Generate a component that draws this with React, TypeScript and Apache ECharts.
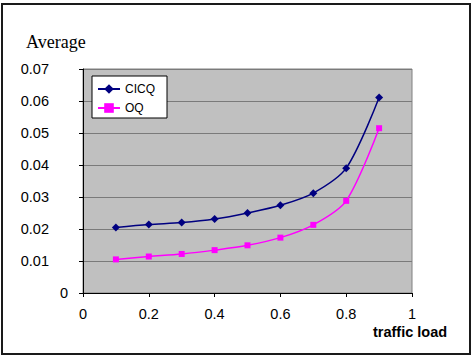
import React, { useEffect, useRef } from "react";
import * as echarts from "echarts";

const trafficLoad = [0.1, 0.2, 0.3, 0.4, 0.5, 0.6, 0.7, 0.8, 0.9];
const cicqValues = [0.0205, 0.0214, 0.022, 0.0231, 0.025, 0.0274, 0.0312, 0.039, 0.0611];
const oqValues = [0.0105, 0.0114, 0.0122, 0.0134, 0.0149, 0.0173, 0.0213, 0.0288, 0.0515];
const seriesNames = ["CICQ", "OQ"];
const yTitle = "Average";
const xTitle = "traffic load";

const SANS = "Liberation Sans, Arial, sans-serif";
const SERIF = "Liberation Serif, Times New Roman, serif";

export default function App() {
  const ref = useRef<HTMLDivElement>(null);
  useEffect(() => {
    if (!ref.current) return;
    const chart = echarts.init(ref.current, null, { renderer: "svg" });
    chart.setOption({
      animation: false,
      backgroundColor: "#ffffff",
      title: [
        {
          text: yTitle,
          left: 26,
          top: 33,
          padding: 0,
          textStyle: { fontFamily: SERIF, fontSize: 18, fontWeight: "normal", color: "#000", lineHeight: 18 },
        },
        {
          text: xTitle,
          left: 373,
          top: 325,
          padding: 0,
          textStyle: { fontFamily: SANS, fontSize: 14.5, fontWeight: "bold", color: "#000", lineHeight: 14 },
        },
      ],
      legend: {
        orient: "vertical",
        left: 92,
        top: 76,
        padding: [7, 12, 4, 5],
        itemGap: 7,
        itemWidth: 22,
        itemHeight: 12,
        backgroundColor: "#ffffff",
        borderColor: "#000000",
        borderWidth: 1,
        borderRadius: 0,
        textStyle: { fontFamily: SANS, fontSize: 12, color: "#000" },
        data: seriesNames,
      },
      grid: {
        left: 83,
        right: 62,
        top: 69,
        bottom: 64,
        show: true,
        backgroundColor: "#c0c0c0",
        borderColor: "#808080",
        borderWidth: 1,
      },
      xAxis: {
        type: "value",
        min: 0,
        max: 1,
        interval: 0.2,
        axisLine: { show: true, lineStyle: { color: "#000", width: 1 } },
        axisTick: { show: true, length: 4, lineStyle: { color: "#000" } },
        splitLine: { show: false },
        axisLabel: {
          margin: 13,
          fontFamily: SANS,
          fontSize: 14.5,
          color: "#000",
          formatter: (v: number) => String(Number(v.toFixed(2))),
        },
      },
      yAxis: {
        type: "value",
        min: 0,
        max: 0.07,
        interval: 0.01,
        axisLine: { show: true, lineStyle: { color: "#000", width: 1 } },
        axisTick: { show: true, length: 4, lineStyle: { color: "#000" } },
        splitLine: { show: true, lineStyle: { color: "#7a7a7a", width: 1 } },
        axisLabel: {
          margin: 15,
          align: "right",
          fontFamily: SANS,
          fontSize: 14.5,
          color: "#000",
          formatter: (v: number) => {
            const s = String(Number(v.toFixed(2)));
            return v === 0 ? s : `{n|${s}}{s|\u00a0}`;
          },
          rich: {
            n: { fontFamily: SANS, fontSize: 14.5, color: "#000" },
            s: { width: 19, fontSize: 14.5 },
          },
        },
      },
      series: [
        {
          name: seriesNames[0],
          type: "line",
          smooth: 0.3,
          symbol: "diamond",
          symbolSize: 8,
          data: trafficLoad.map((x, i) => [x, cicqValues[i]]),
          lineStyle: { color: "#000080", width: 1.5 },
          itemStyle: { color: "#000080" },
        },
        {
          name: seriesNames[1],
          type: "line",
          smooth: 0.3,
          symbol: "rect",
          symbolSize: 6,
          data: trafficLoad.map((x, i) => [x, oqValues[i]]),
          lineStyle: { color: "#ff00ff", width: 1.5 },
          itemStyle: { color: "#ff00ff" },
        },
      ],
      graphic: [
        {
          type: "rect",
          silent: true,
          shape: { x: 2, y: 4, width: 468, height: 350 },
          style: { fill: "none", stroke: "#1a1a1a", lineWidth: 2 },
        },
      ],
    });
    return () => chart.dispose();
  }, []);
  return (
    <div
      ref={ref}
      style={{ position: "absolute", left: 0, top: 0, width: 474, height: 357 }}
    />
  );
}
